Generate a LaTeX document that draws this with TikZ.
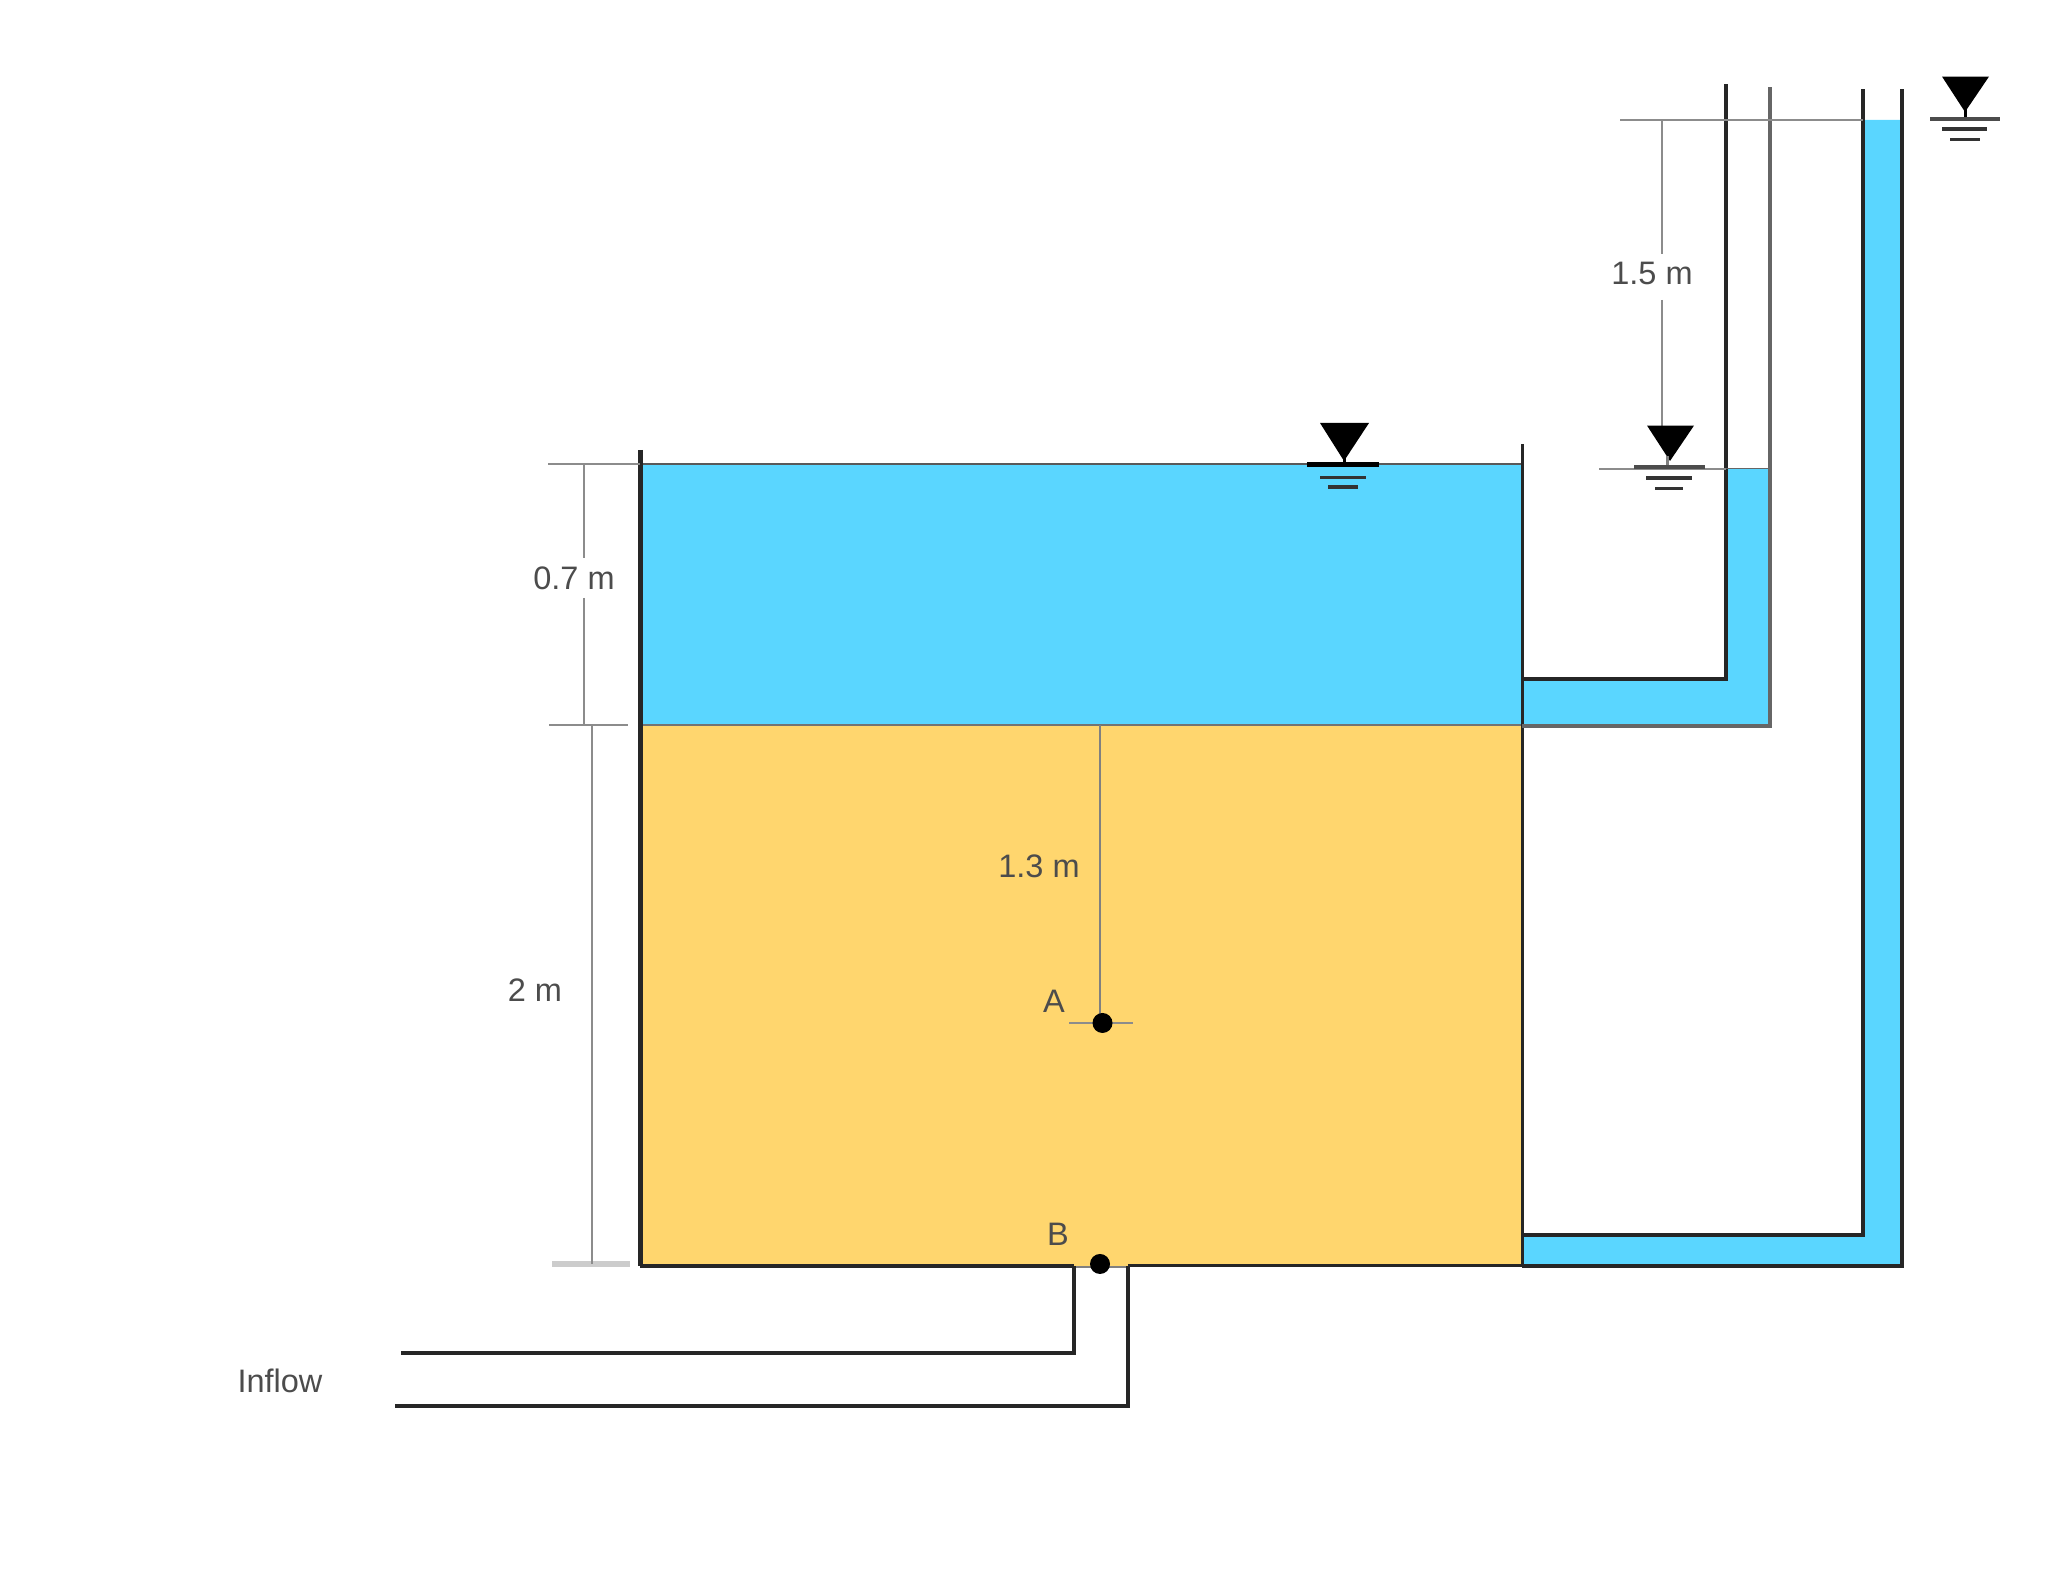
\documentclass[tikz,border=0pt]{standalone}
\usepackage{fontspec}
\setmainfont{Liberation Sans}
\definecolor{waterblue}{RGB}{90,214,255}
\definecolor{oilyellow}{RGB}{255,214,110}
\tikzset{
  wall/.style={line width=0.040cm,black!85},
  thinwall/.style={line width=0.035cm,black!60},
  dimline/.style={line width=0.020cm,black!45},
  levelline/.style={line width=0.035cm,black!80},
  label/.style={text=black!70,inner sep=0pt}
}
\begin{document}
\begin{tikzpicture}
\useasboundingbox (0,0) rectangle (20.46,15.71);
{\fontsize{9.25}{11}\selectfont

% Filling upper liquid
\fill [waterblue] (6.40,11.065) rectangle (15.22,8.455);%

% Filling lower liquid
\fill [oilyellow] (6.40,8.455) rectangle (15.22,3.05);%

% Filling short tube
\fill [waterblue] (15.22,8.92) -- (17.26,8.92) -- (17.26,11.023) -- (17.70,11.023) -- (17.70,8.45) -- (15.22,8.45) -- cycle;%

% Filling long tube
\fill [waterblue] (15.22,3.36) -- (18.63,3.36) -- (18.63,14.51) -- (19.02,14.51) -- (19.02,3.05) -- (15.22,3.05) -- cycle;%

% Drawing tank surface and interface
\draw [line width=0.020cm,black!65] (6.40,11.065) -- (15.22,11.065);%
\draw [line width=0.020cm,black!55] (6.40,8.455) -- (15.22,8.455);%

% Drawing tank walls
\draw [wall,line width=0.050cm] (6.40,11.21) -- (6.40,3.05);%
\draw [wall] (6.40,3.05) -- (10.74,3.05);%
\draw [wall,line width=0.030cm] (15.22,11.27) -- (15.22,3.05) -- (11.28,3.05);%
\draw [line width=0.015cm,black!50] (10.74,3.04) -- (11.28,3.04);%

% Drawing short tube
\draw [wall] (15.22,8.92) -- (17.26,8.92) -- (17.26,14.87);%
\draw [thinwall] (15.22,8.45) -- (17.70,8.45) -- (17.70,14.84);%

% Drawing long tube
\draw [wall] (15.22,3.36) -- (18.63,3.36) -- (18.63,14.82);%
\draw [wall] (15.22,3.05) -- (19.02,3.05) -- (19.02,14.82);%

% Drawing inflow pipe
\draw [wall] (10.74,3.05) -- (10.74,2.18) -- (4.01,2.18);%
\draw [wall] (11.28,3.05) -- (11.28,1.65) -- (3.95,1.65);%

% Drawing extension lines
\draw [dimline] (5.48,11.065) -- (6.40,11.065);%
\draw [dimline] (5.49,8.455) -- (6.28,8.455);%
\draw [line width=0.060cm,black!20] (5.52,3.07) -- (6.30,3.07);%
\draw [dimline] (16.20,14.51) -- (18.63,14.51);%
\draw [dimline] (15.99,11.023) -- (17.26,11.023);%
\draw [line width=0.015cm,black!60] (17.26,11.023) -- (17.70,11.023);%

% Drawing dimension 0.7 m
\draw [dimline] (5.84,11.065) -- (5.84,10.13);%
\draw [dimline] (5.84,9.73) -- (5.84,8.455);%

% Drawing dimension 2 m
\draw [dimline] (5.92,8.455) -- (5.92,3.07);%

% Drawing dimension 1.5 m
\draw [dimline] (16.62,14.51) -- (16.62,13.17);%
\draw [dimline] (16.62,12.71) -- (16.62,11.40);%

% Drawing dimension 1.3 m
\draw [line width=0.020cm,black!50] (11.00,8.455) -- (11.00,5.48);%

% Marking level in tank
\fill [black] (13.20,11.48) -- (13.69,11.48) -- (13.44,11.10) -- cycle;%
\draw [line width=0.030cm,black] (13.44,11.15) -- (13.44,11.065);%
\draw [levelline,line width=0.045cm,black] (13.07,11.065) -- (13.79,11.065);%
\draw [levelline] (13.20,10.935) -- (13.66,10.935);%
\draw [levelline,line width=0.045cm] (13.28,10.84) -- (13.58,10.84);%

% Marking level in short tube
\fill [black] (16.47,11.454) -- (16.94,11.454) -- (16.70,11.10) -- cycle;%
\draw [line width=0.030cm,black!50] (16.67,11.15) -- (16.67,11.04);%
\draw [levelline,line width=0.045cm,black!70] (16.34,11.04) -- (17.05,11.04);%
\draw [levelline] (16.46,10.93) -- (16.92,10.93);%
\draw [levelline] (16.55,10.825) -- (16.83,10.825);%

% Marking level in long tube
\fill [black] (19.42,14.944) -- (19.89,14.944) -- (19.65,14.59) -- cycle;%
\draw [line width=0.030cm,black] (19.65,14.63) -- (19.65,14.52);%
\draw [levelline,line width=0.045cm,black!70] (19.30,14.52) -- (20.00,14.52);%
\draw [levelline] (19.42,14.42) -- (19.87,14.42);%
\draw [levelline] (19.50,14.315) -- (19.80,14.315);%

% Marking point A
\draw [dimline] (10.69,5.48) -- (11.33,5.48);%
\fill [black] (11.025,5.48) circle (0.10);%
\draw (10.54,5.70) node [label] (pointA) {A};%

% Marking point B
\fill [black] (11.00,3.07) circle (0.10);%
\draw (10.58,3.37) node [label] (pointB) {B};%

% Marking lengths
\draw (5.74,9.93) node [label] (lengthUpper) {0.7 m};%
\draw (5.35,5.81) node [label] (lengthLower) {2 m};%
\draw (16.52,12.97) node [label] (lengthTube) {1.5 m};%
\draw (10.39,7.05) node [label] (lengthA) {1.3 m};%

% Marking inflow
\draw (2.80,1.90) node [label] (inflow) {Inflow};%
}
\end{tikzpicture}
\end{document}
